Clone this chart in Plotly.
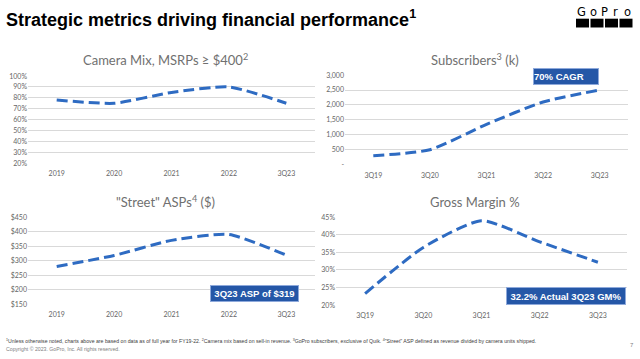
import plotly.graph_objects as go

W, H = 640, 359

years = ["2019", "2020", "2021", "2022", "3Q23"]
quarters = ["3Q19", "3Q20", "3Q21", "3Q22", "3Q23"]

camera_mix = [78, 75, 85, 90, 75]          # %
subscribers = [300, 500, 1350, 2100, 2500]  # thousands
street_asp = [280, 318, 370, 390, 319]      # $
gross_margin = [23.3, 36.4, 44.0, 38.0, 32.2]  # %

mix_ticks = [20, 30, 40, 50, 60, 70, 80, 90, 100]
mix_ticktext = [f"{v}%" for v in mix_ticks]
sub_ticks = [0, 500, 1000, 1500, 2000, 2500, 3000]
sub_ticktext = ["-", "500", "1,000", "1,500", "2,000", "2,500", "3,000"]
asp_ticks = [150, 200, 250, 300, 350, 400, 450]
asp_ticktext = [f"${v}" for v in asp_ticks]
gm_ticks = [20, 25, 30, 35, 40, 45]
gm_ticktext = [f"{v}%" for v in gm_ticks]

LINE = "#2E6BC2"
GRID = "#D9D9D9"
TICK = "#666666"
FONT = "Lato"


def px_x(p):
    return p / W


def px_y(p):
    return 1 - p / H


panels = [
    dict(x=years, y=camera_mix, xd=(28, 315), yd=(72.7, 161.7), rng=(20, 100),
         tv=mix_ticks, tt=mix_ticktext),
    dict(x=quarters, y=subscribers, xd=(345, 628), yd=(71.7, 163.3), rng=(0, 3000),
         tv=sub_ticks, tt=sub_ticktext),
    dict(x=years, y=street_asp, xd=(28, 315), yd=(217, 306), rng=(150, 450),
         tv=asp_ticks, tt=asp_ticktext),
    dict(x=quarters, y=gross_margin, xd=(336, 627), yd=(217, 307), rng=(20, 45),
         tv=gm_ticks, tt=gm_ticktext),
]

fig = go.Figure()
layout = {}
for i, p in enumerate(panels, start=1):
    xa = "x" if i == 1 else f"x{i}"
    ya = "y" if i == 1 else f"y{i}"
    fig.add_trace(go.Scatter(
        x=p["x"], y=p["y"], mode="lines", xaxis=xa, yaxis=ya,
        line=dict(color=LINE, width=3, dash="11px,5px", shape="spline", smoothing=0.6),
        showlegend=False, hoverinfo="skip"))
    layout[f"xaxis{'' if i == 1 else i}"] = dict(
        domain=[px_x(p["xd"][0]), px_x(p["xd"][1])], anchor=ya,
        type="category", range=[-0.5, 4.5], showgrid=False, zeroline=False,
        showline=False, ticks="", ticklabelstandoff=5,
        tickfont=dict(family=FONT, size=7, color=TICK), fixedrange=True)
    layout[f"yaxis{'' if i == 1 else i}"] = dict(
        domain=[px_y(p["yd"][1]), px_y(p["yd"][0])], anchor=xa,
        range=list(p["rng"]), tickvals=p["tv"], ticktext=p["tt"],
        showgrid=True, gridcolor=GRID, gridwidth=1, zeroline=False,
        showline=False, ticks="", tickfont=dict(family=FONT, size=7, color=TICK),
        fixedrange=True)

fig.update_layout(**layout)

ann = []
# main title
ann.append(dict(x=px_x(4), y=px_y(14), xref="paper", yref="paper", xanchor="left", yanchor="middle",
                text="<b>Strategic metrics driving financial performance<sup>1</sup></b>",
                showarrow=False, font=dict(family="Liberation Sans", size=18, color="#000000")))
# panel titles
titles = [
    ("Camera Mix, MSRPs ≥ $400<sup>2</sup>", 165, 56),
    ("Subscribers<sup>3</sup> (k)", 475, 56),
    ("\"Street\" ASPs<sup>4</sup> ($)", 165, 201),
    ("Gross Margin %", 475, 201),
]
for t, cx, cy in titles:
    ann.append(dict(x=px_x(cx), y=px_y(cy), xref="paper", yref="paper", xanchor="center",
                    yanchor="middle", text=t, showarrow=False,
                    font=dict(family=FONT, size=13, color="#707070")))
# callout boxes
boxes = [
    ("70% CAGR", 533, 64, 66, 17, "left"),
    ("3Q23 ASP of $319", 210, 286, 89, 17, "center"),
    ("32.2% Actual 3Q23 GM%", 506, 288, 120, 18, "center"),
]
for t, bx, by, bw, bh, al in boxes:
    ann.append(dict(x=px_x(bx), y=px_y(by), xref="paper", yref="paper", xanchor="left",
                    yanchor="top", text=f"<b>{t}</b>", showarrow=False, align=al,
                    width=bw - 2, height=bh - 2, borderpad=0, borderwidth=1,
                    bgcolor="#2557A7", bordercolor="#8EA9DB",
                    font=dict(family="Liberation Sans", size=9.5, color="#FFFFFF")))
# footnotes
ann.append(dict(x=px_x(4), y=px_y(344), xref="paper", yref="paper", xanchor="left", yanchor="middle",
                text="<sup>1</sup>Unless otherwise noted, charts above are based on data as of full year for FY19-22. "
                     "<sup>2</sup>Camera mix based on sell-in revenue. <sup>3</sup>GoPro subscribers, exclusive of Quik. "
                     "<sup>4</sup>\"Street\" ASP defined as revenue divided by camera units shipped.",
                showarrow=False, font=dict(family="Liberation Sans", size=5.2, color="#404040")))
ann.append(dict(x=px_x(4), y=px_y(352), xref="paper", yref="paper", xanchor="left", yanchor="middle",
                text="Copyright © 2023. GoPro, Inc. All rights reserved.",
                showarrow=False, font=dict(family="Liberation Sans", size=5.2, color="#808080")))
ann.append(dict(x=px_x(636), y=px_y(348), xref="paper", yref="paper", xanchor="right", yanchor="middle",
                text="7", showarrow=False, font=dict(family="Liberation Sans", size=6, color="#808080")))
# logo text (letter-spaced)
for ch, lx in zip("GoPro", [581.5, 593, 604.5, 615.5, 627]):
    ann.append(dict(x=px_x(lx), y=px_y(7.5), xref="paper", yref="paper", xanchor="center",
                    yanchor="middle", text=ch, showarrow=False,
                    font=dict(family="DejaVu Sans", size=11.5, color="#000000")))

shapes = []
for k in range(4):
    x0 = 576 + k * 14.5
    shapes.append(dict(type="rect", xref="paper", yref="paper",
                       x0=px_x(x0), x1=px_x(x0 + 13), y0=px_y(23), y1=px_y(14),
                       fillcolor="#000000", line=dict(width=0)))

fig.update_layout(width=W, height=H, margin=dict(l=0, r=0, t=0, b=0),
                  paper_bgcolor="#FFFFFF", plot_bgcolor="#FFFFFF",
                  annotations=ann, shapes=shapes)

fig.write_html("out.html", config={"displayModeBar": False},
               post_script="document.body.style.margin='0';document.body.style.padding='0';")
